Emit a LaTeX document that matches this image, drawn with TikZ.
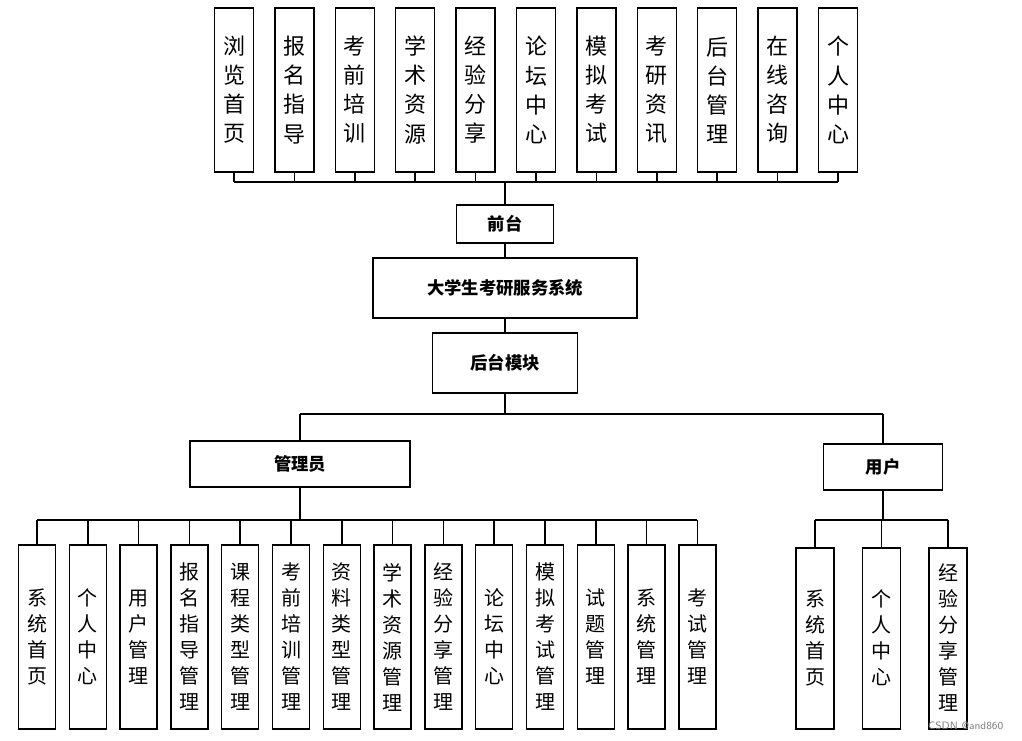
\documentclass[tikz,border=0pt]{standalone}
\usepackage{fontspec}
\newfontfamily\cjk{Noto Sans CJK SC}
\begin{document}
\begin{tikzpicture}[x=0.75pt,y=-0.75pt,
  bx/.style={draw,line width=1.1pt,inner sep=0pt},
  tp/.style={font=\cjk\fontsize{16.5}{21.8}\selectfont,align=center},
  bt/.style={font=\cjk\fontsize{15}{19.5}\selectfont,align=center},
  mid/.style={font=\cjk\bfseries\fontsize{13}{15}\selectfont},
  ln/.style={line width=1.1pt}]
\useasboundingbox (0,0) rectangle (1022,740);
% top
\foreach \i/\t in {0/浏\\览\\首\\页,1/报\\名\\指\\导,2/考\\前\\培\\训,3/学\\术\\资\\源,4/经\\验\\分\\享,5/论\\坛\\中\\心,6/模\\拟\\考\\试,7/考\\研\\资\\讯,8/后\\台\\管\\理,9/在\\线\\咨\\询,10/个\\人\\中\\心}{
  \pgfmathsetmacro\cx{234+60.4*\i}
  \draw[bx] (\cx-19.5,8) rectangle (\cx+19.5,172);
  \node[tp] (t\i) at (\cx,90) {\t};
  \coordinate (tb\i) at (\cx,172);
  \draw[ln] (tb\i) -- (\cx,182);
}
\draw[ln] (234,182) -- (838,182);
\node[bx,mid,minimum width=97*0.75pt,minimum height=38*0.75pt] (qt) at (505,224) {前台};
\draw[ln] (505,182) -- (qt.north);
\node[bx,mid,minimum width=264*0.75pt,minimum height=60*0.75pt] (sys) at (505,288) {大学生考研服务系统};
\draw[ln] (qt) -- (sys);
\node[bx,mid,minimum width=145*0.75pt,minimum height=60*0.75pt] (ht) at (505,363) {后台模块};
\draw[ln] (sys) -- (ht);
\draw[ln] (ht.south) -- (505,414);
\draw[ln] (300,414) -- (883,414);
\node[bx,mid,minimum width=220*0.75pt,minimum height=46*0.75pt] (adm) at (300,464) {管理员};
\node[bx,mid,minimum width=119*0.75pt,minimum height=46*0.75pt] (usr) at (883,467) {用户};
\draw[ln] (300,414) -- (adm.north);
\draw[ln] (883,414) -- (usr.north);
\draw[ln] (adm.south) -- (300,520);
\draw[ln] (usr.south) -- (883,520);
% admin children
\foreach \i/\t in {0/系\\统\\首\\页,1/个\\人\\中\\心,2/用\\户\\管\\理,3/报\\名\\指\\导\\管\\理,4/课\\程\\类\\型\\管\\理,5/考\\前\\培\\训\\管\\理,6/资\\料\\类\\型\\管\\理,7/学\\术\\资\\源\\管\\理,8/经\\验\\分\\享\\管\\理,9/论\\坛\\中\\心,10/模\\拟\\考\\试\\管\\理,11/试\\题\\管\\理,12/系\\统\\管\\理,13/考\\试\\管\\理}{
  \pgfmathsetmacro\cx{37+50.8*\i}
  \draw[bx] (\cx-18.5,545) rectangle (\cx+18.5,729);
  \node[bt] (a\i) at (\cx,637) {\t};
  \draw[ln] (\cx,520) -- (\cx,545);
}
\draw[ln] (37,520) -- (697,520);
\foreach \i/\t in {0/系\\统\\首\\页,1/个\\人\\中\\心,2/经\\验\\分\\享\\管\\理}{
  \pgfmathsetmacro\cx{815+66.5*\i}
  \draw[bx] (\cx-19,548) rectangle (\cx+19,729);
  \node[bt] (u\i) at (\cx,638) {\t};
  \draw[ln] (\cx,520) -- (\cx,548);
}
\draw[ln] (815,520) -- (948,520);
\node[font=\sffamily\fontsize{8}{9}\selectfont,text=gray,anchor=east] (wm) at (1008,726) {CSDN @and860};
\end{tikzpicture}
\end{document}
